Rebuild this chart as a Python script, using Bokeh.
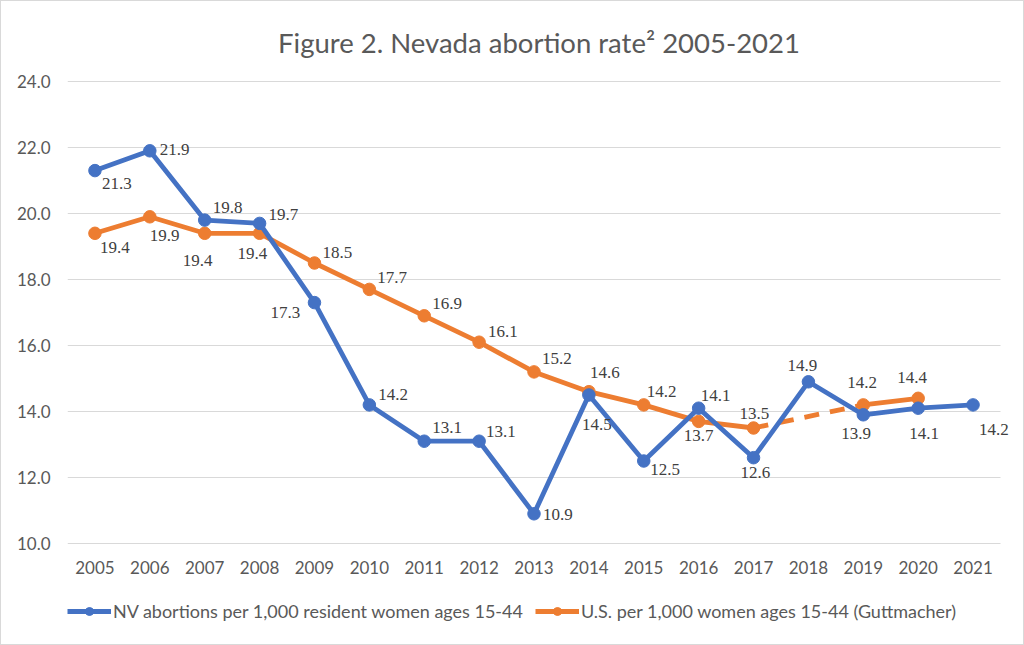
import math
from bokeh.plotting import figure
from bokeh.models import (Range1d, FixedTicker, NumeralTickFormatter, Legend, LegendItem,
                          LabelSet, Label, ColumnDataSource)
from bokeh.embed import file_html
from bokeh.resources import INLINE

# ---- data ----
years = list(range(2005, 2022))
nv_rate = [21.3, 21.9, 19.8, 19.7, 17.3, 14.2, 13.1, 13.1, 10.9, 14.5, 12.5, 14.1, 12.6, 14.9, 13.9, 14.1, 14.2]
us_rate = [19.4, 19.9, 19.4, 19.4, 18.5, 17.7, 16.9, 16.1, 15.2, 14.6, 14.2, 13.7, 13.5, float("nan"), 14.2, 14.4, float("nan")]
y_ticks = [10, 12, 14, 16, 18, 20, 22, 24]
title_text = "Figure 2. Nevada abortion rate\u00b2 2005-2021"
nv_name = "NV abortions per 1,000 resident women ages 15-44"
us_name = "U.S. per 1,000 women ages 15-44 (Guttmacher)"

# ---- label placement (screen px: dx right, dy down) ----
nv_dx = [7, 10, 8, 9, -44, 9, 8, 7, 9, -7, 6.5, 2, -13, -21, -22, -9, 6]
nv_dy = [13, -1, -13, -9, 10, -10, -14, -10, 1, 29, 8, -13, 15, -16, 19, 25, 25]
us_dx = [5, 0, -22, -22, 8, 8, 8, 9, 8, 1, 3, -15, -14, 0, -16, -21, 0]
us_dy = [14, 19, 27, 20, -11, -12, -12, -11, -13, -19, -13, 14, -15, 0, -22, -21, 0]

BLUE = "#4472C4"
ORANGE = "#ED7D31"
TXT = "#595959"
LBL = "#404040"
GRID = "#d9d9d9"
FONT = "Lato"

# layout geometry (pixels)
PX_PER_YEAR = 933 / 17
PX_PER_UNIT = 33.0
TOP_SPACE = 80          # room above the 24.0 gridline for the title
FRAME_W = 950
FRAME_H = 554 + TOP_SPACE
x0 = years[0] - 0.5
x1 = years[-1] + 0.5
y_top = y_ticks[-1] + TOP_SPACE / PX_PER_UNIT

p = figure(frame_width=FRAME_W, frame_height=FRAME_H,
           min_border_left=66, min_border_right=6, min_border_top=0, min_border_bottom=9,
           x_range=Range1d(x0, x0 + FRAME_W / PX_PER_YEAR),
           y_range=Range1d(y_top - FRAME_H / PX_PER_UNIT, y_top),
           output_backend="svg", toolbar_location=None)
p.styles = {"border": "1px solid #d9d9d9"}
p.outline_line_color = None
p.background_fill_color = "white"
p.border_fill_color = "white"

# title (as a label above the plot area)
p.add_layout(Label(x=(x0 + x1) / 2, y=y_ticks[-1], x_offset=5, y_offset=39, text=title_text,
                   text_font=FONT, text_font_size="27.5px", text_color=TXT,
                   text_align="center", text_baseline="middle"))

# axes
p.yaxis.ticker = FixedTicker(ticks=y_ticks)
p.yaxis.formatter = NumeralTickFormatter(format="0.0")
p.xaxis.ticker = FixedTicker(ticks=years)
p.xaxis.fixed_location = y_ticks[0]
for ax in (p.xaxis, p.yaxis):
    ax.major_tick_line_color = None
    ax.minor_tick_line_color = None
    ax.major_tick_in = 0
    ax.major_tick_out = 0
    ax.axis_line_color = None
    ax.major_label_text_font = FONT
    ax.major_label_text_font_size = "17px"
    ax.major_label_text_color = TXT
p.yaxis.major_label_standoff = 17
p.xaxis.major_label_standoff = 17

p.xgrid.grid_line_color = None
p.ygrid.grid_line_color = None
p.segment(x0=x0, x1=x1, y0=y_ticks, y1=y_ticks, line_color=GRID, line_width=1)

# series
gap_x = [years[12], years[14]]
gap_y = [us_rate[12], us_rate[14]]
p.line(gap_x, gap_y, line_color=ORANGE, line_width=4.8, line_dash="15 11")
us_line = p.line(years, us_rate, line_color=ORANGE, line_width=4.8)
us_pts = p.scatter(years, us_rate, size=12.5, fill_color=ORANGE, line_color=ORANGE)
nv_line = p.line(years, nv_rate, line_color=BLUE, line_width=4.8)
nv_pts = p.scatter(years, nv_rate, size=12.5, fill_color=BLUE, line_color=BLUE)

# data labels
nv_src = ColumnDataSource(dict(x=years, y=nv_rate, t=[f"{v:.1f}" for v in nv_rate],
                               dx=nv_dx, dy=[-d for d in nv_dy]))
idx = [i for i, v in enumerate(us_rate) if not math.isnan(v)]
us_src = ColumnDataSource(dict(x=[years[i] for i in idx], y=[us_rate[i] for i in idx],
                               t=[f"{us_rate[i]:.1f}" for i in idx],
                               dx=[us_dx[i] for i in idx], dy=[-us_dy[i] for i in idx]))
for src in (us_src, nv_src):
    ls = LabelSet(x="x", y="y", text="t", x_offset="dx", y_offset="dy", source=src,
                  text_font=FONT, text_font_size="17px", text_color=LBL,
                  text_align="left", text_baseline="middle")
    p.add_layout(ls)

legend = Legend(items=[LegendItem(label=nv_name, renderers=[nv_line, nv_pts]),
                       LegendItem(label=us_name, renderers=[us_line, us_pts])],
                orientation="horizontal", location=(0, 13),
                glyph_width=44, glyph_height=20, label_standoff=2, spacing=12,
                padding=0, margin=0, border_line_color=None, background_fill_alpha=0,
                label_text_font=FONT, label_text_font_size="18px", label_text_color=TXT)
p.add_layout(legend)

open("out.html", "w").write(file_html(p, INLINE))
